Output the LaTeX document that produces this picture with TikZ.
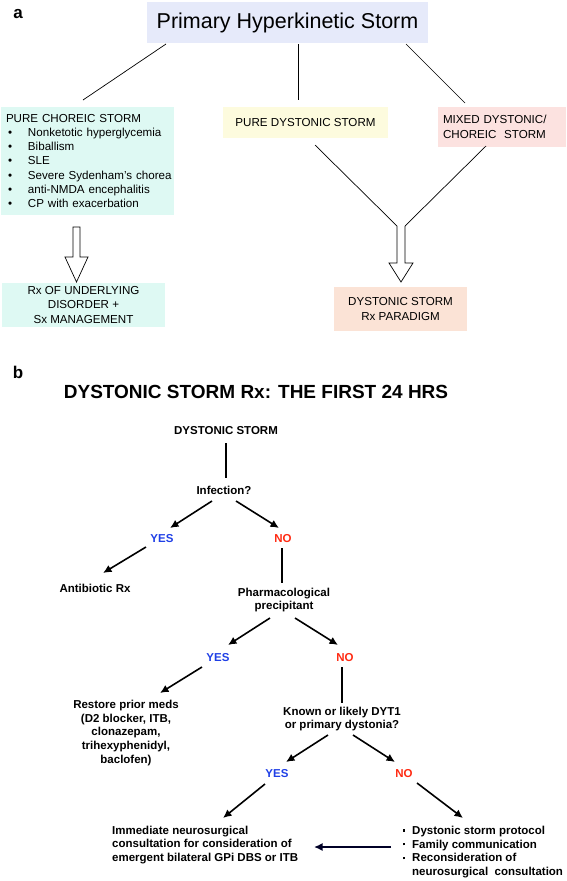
\documentclass[tikz,border=0pt]{standalone}
\usepackage{fontspec}
\setmainfont{Liberation Sans}
\usetikzlibrary{arrows.meta,calc}
\definecolor{lav}{HTML}{E6EAFA}
\definecolor{cya}{HTML}{DEF9F3}
\definecolor{yel}{HTML}{FDFBDE}
\definecolor{pnk}{HTML}{FCE2E0}
\definecolor{pch}{HTML}{FBE3D6}
\definecolor{yesblue}{HTML}{1F3FE6}
\definecolor{nored}{HTML}{FF2A12}
\newcommand\pli{\hspace*{2pt}\makebox[20pt][l]{\textbullet}}
\newcommand\bsq{\makebox[9pt][l]{\rule[2.6pt]{2.2pt}{2.2pt}}}
\begin{document}
\begin{tikzpicture}[x=1pt,y=-1pt,
  boxa/.style={draw=none, inner sep=0pt, outer sep=0pt},
  ta/.style={font=\fontsize{11.6}{14.3}\selectfont},
  tb/.style={font=\fontsize{11.5}{13.9}\selectfont\bfseries, inner sep=0pt, align=center},
  thinl/.style={line width=0.7pt},
  arr/.style={line width=1.6pt, -{Latex[length=8.5pt,width=8pt]}},
  plainl/.style={line width=1.6pt},
  lbl/.style={font=\fontsize{17}{20}\selectfont\bfseries, inner sep=0pt}]
\useasboundingbox (0,0) rectangle (567,881);

% ---------- panel a ----------
\node[lbl] (la) at (18,14) {a};
\node[boxa, fill=lav, minimum width=281pt, minimum height=41pt,
      font=\fontsize{21.5}{24}\selectfont] (top) at (287.5,22.5) {Primary Hyperkinetic Storm};

\node[boxa, fill=cya, anchor=north west, minimum height=108pt, text width=163pt,
      inner xsep=5pt, align=left, ta] (pcs) at (1,107)
  {PURE CHOREIC STORM\\
   \pli Nonketotic hyperglycemia\\
   \pli Biballism\\
   \pli SLE\\
   \mbox{\pli Severe Sydenham’s chorea}\\
   \pli anti-NMDA encephalitis\\
   \pli CP with exacerbation};

\node[boxa, fill=yel, minimum width=165pt, minimum height=31pt, ta] (pds) at (305.5,122.5) {PURE DYSTONIC STORM};

\node[boxa, fill=pnk, anchor=north west, minimum height=40pt, text width=118pt,
      inner xsep=5pt, align=left, ta] (mix) at (438,107) {MIXED DYSTONIC/\\CHOREIC\ \ STORM};

\node[boxa, fill=cya, minimum width=163pt, minimum height=44pt, ta, align=center] (rx1) at (83.5,305)
  {Rx OF UNDERLYING\\DISORDER +\\Sx MANAGEMENT};

\node[boxa, fill=pch, minimum width=133pt, minimum height=44pt, ta, align=center] (dsp) at (400.5,309)
  {DYSTONIC STORM\\Rx PARADIGM};

\draw[thinl] ([shift={(-121.5,1)}]top.south) -- ([shift={(-4.5,-7)}]pcs.north);
\draw[thinl] ([shift={(10.5,1)}]top.south) -- ([shift={(-7.5,-7)}]pds.north);
\draw[thinl] ([shift={(118.5,1)}]top.south) -- ([shift={(-37,-4)}]mix.north);

% hollow arrow left
\coordinate (h1) at ([shift={(-11,12)}]pcs.south);
\draw[thinl, line join=miter] ([shift={(-3.5,0)}]h1) -- ++(0,30) -- ++(-8,0) -- ++(11.5,25)
   -- ++(11.5,-25) -- ++(-8,0) -- ++(0,-30) -- cycle;

% hollow arrow right
\coordinate (h2) at (401,226);
\draw[thinl, line join=miter] ([shift={(-4,0)}]h2) -- ++(0,37) -- ++(-8,0) -- ++(12,19)
   -- ++(12,-19) -- ++(-8,0) -- ++(0,-37);
\draw[thinl] ([shift={(9.5,7)}]pds.south) -- ([shift={(-4,0)}]h2);
\draw[thinl] ([shift={(-16,-1)}]mix.south) -- ([shift={(4,0)}]h2);

% ---------- panel b ----------
\node[lbl] (lb) at (18,372) {b};
\node[font=\fontsize{19}{22}\selectfont\bfseries, inner sep=0pt] (title) at (256,392)
  {DYSTONIC STORM Rx: THE FIRST 24 HRS};

\node[tb] (ds) at (226,431) {DYSTONIC STORM};
\node[tb] (inf) at (224,490) {Infection?};
\node[tb, text=yesblue] (yes1) at (162,539) {YES};
\node[tb, text=nored] (no1) at (283,539) {NO};
\node[tb] (anti) at (95,588) {Antibiotic Rx};
\node[tb] (pharm) at (284,600) {Pharmacological\\precipitant};
\node[tb, text=yesblue] (yes2) at (218,658) {YES};
\node[tb, text=nored] (no2) at (345,658) {NO};
\node[tb] (restore) at (126,733) {Restore prior meds\\(D2 blocker, ITB,\\clonazepam,\\trihexyphenidyl,\\baclofen)};
\node[tb] (known) at (342,719) {Known or likely DYT1\\or primary dystonia?};
\node[tb, text=yesblue] (yes3) at (277,774) {YES};
\node[tb, text=nored] (no3) at (404,774) {NO};
\node[tb, align=left, anchor=west] (imm) at (112,845)
  {Immediate neurosurgical\\consultation for consideration of\\emergent bilateral GPi DBS or ITB};
\node[tb, align=left, anchor=west] (bul) at (403,852)
  {\bsq Dystonic storm protocol\\\bsq Family communication\\\bsq Reconsideration of\\\hspace*{9pt}neurosurgical\ \ consultation};

\draw[plainl] ([shift={(0,12)}]ds.center) -- ([shift={(2,-12)}]inf.center);
\draw[arr] ([shift={(-12,11)}]inf.center) -- ([shift={(8,-11)}]yes1.center);
\draw[arr] ([shift={(12,11)}]inf.center) -- ([shift={(-4,-11)}]no1.center);
\draw[arr] ([shift={(-16,8)}]yes1.center) -- ([shift={(8,-15)}]anti.center);
\draw[plainl] ([shift={(-1,9)}]no1.center) -- ([shift={(-2,-17)}]pharm.center);
\draw[arr] ([shift={(-14,18)}]pharm.center) -- ([shift={(10,-13)}]yes2.center);
\draw[arr] ([shift={(11,18)}]pharm.center) -- ([shift={(-7,-13)}]no2.center);
\draw[arr] ([shift={(-16,9)}]yes2.center) -- ([shift={(34,-40)}]restore.center);
\draw[plainl] ([shift={(-3,9)}]no2.center) -- ([shift={(0,-16)}]known.center);
\draw[arr] ([shift={(-14,16)}]known.center) -- ([shift={(9,-12)}]yes3.center);
\draw[arr] ([shift={(11,16)}]known.center) -- ([shift={(-9,-12)}]no3.center);
\draw[arr] ([shift={(-12,10)}]yes3.center) -- ([shift={(111,-27)}]imm.west);
\draw[arr] ([shift={(13,9)}]no3.center) -- ([shift={(60,-34)}]bul.west);
\draw[arr, draw=black!85!blue] ([shift={(-12,-5)}]bul.west) -- ([shift={(202,2)}]imm.west);
\end{tikzpicture}
\end{document}
